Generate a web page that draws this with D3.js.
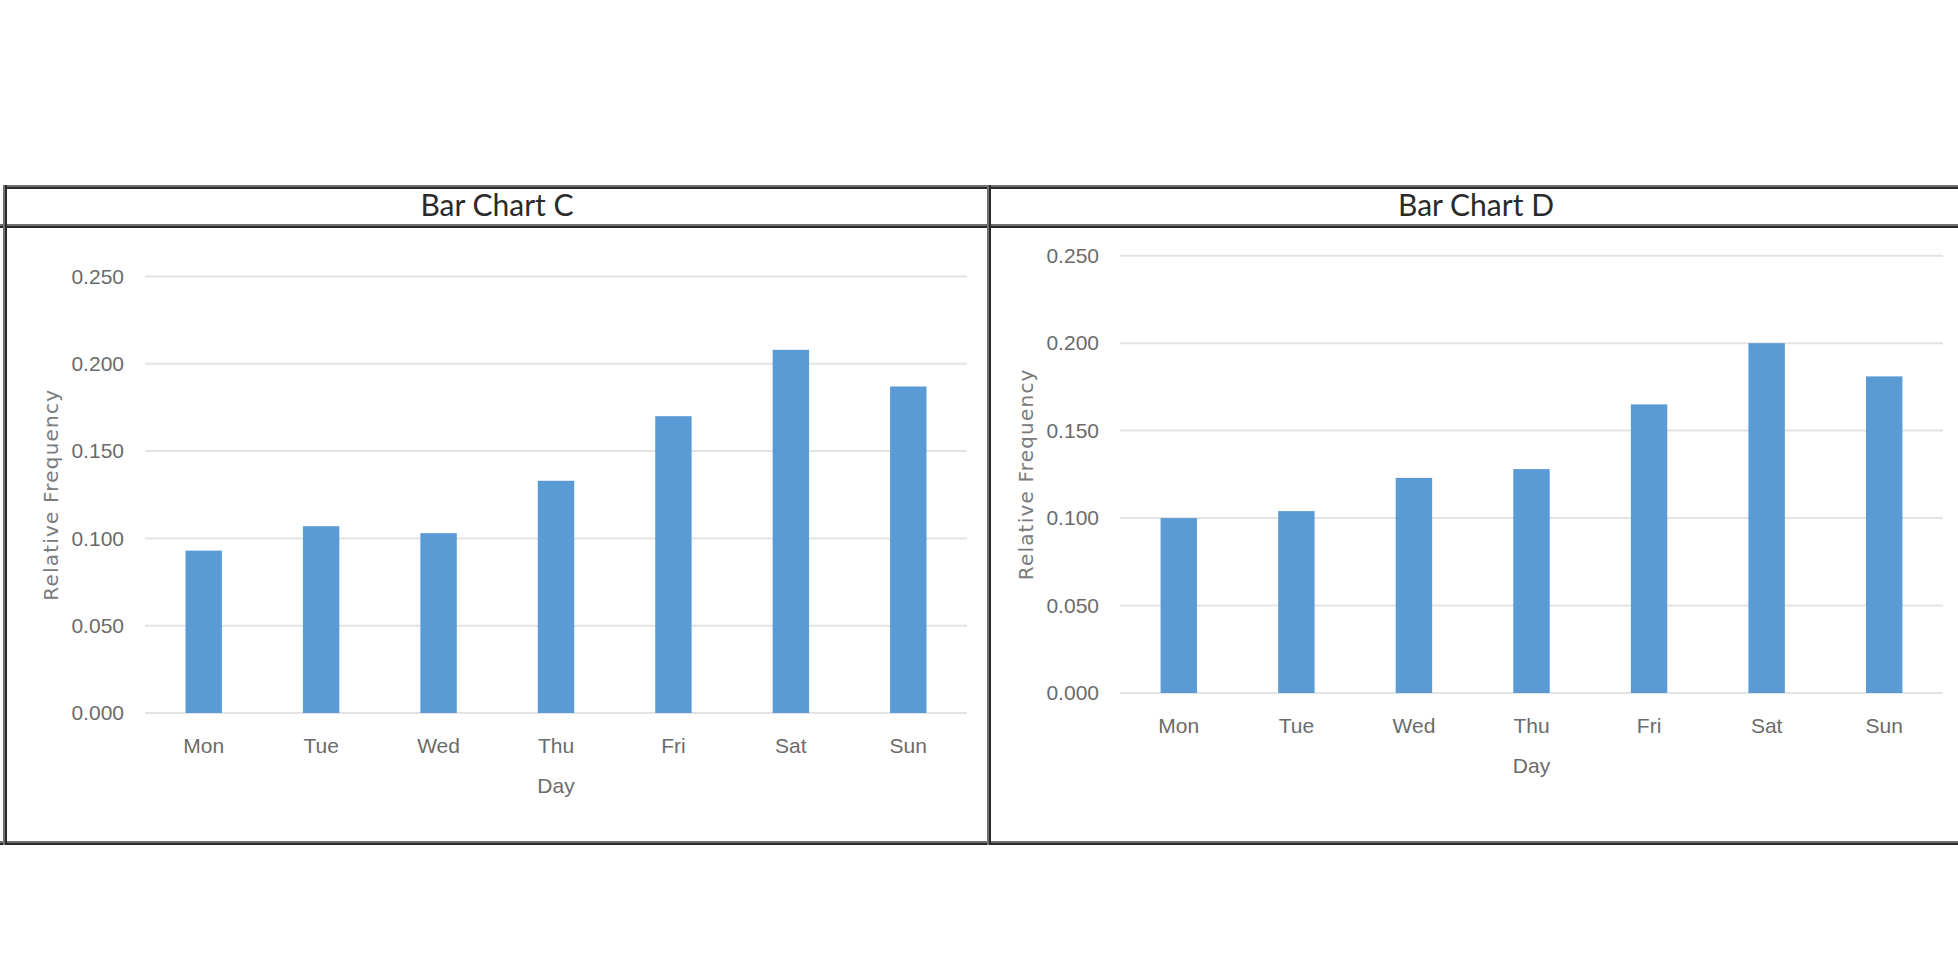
<!DOCTYPE html>
<html>
<head>
<meta charset="utf-8">
<script src="https://cdn.jsdelivr.net/npm/d3@7"></script>
<style>
  html, body { margin: 0; padding: 0; background: #ffffff; }
  svg { display: block; }
</style>
</head>
<body>
<svg id="chart" width="1958" height="969"></svg>
<script>
// ---- data ----
const days = ["Mon", "Tue", "Wed", "Thu", "Fri", "Sat", "Sun"];
const freqC = [0.093, 0.107, 0.103, 0.133, 0.170, 0.208, 0.187];
const freqD = [0.100, 0.104, 0.123, 0.128, 0.165, 0.200, 0.181];
const yTickValues = [0.000, 0.050, 0.100, 0.150, 0.200, 0.250];
const panelTitles = ["Bar Chart C", "Bar Chart D"];
const xAxisTitle = "Day";
const yAxisTitle = "Relative Frequency";

// ---- layout ----
const W = 1958, H = 969;
const svg = d3.select("#chart");
svg.append("rect").attr("width", W).attr("height", H).attr("fill", "#ffffff");

const table = { left: 3, right: 1962, top: 185, headBottom: 224, bottom: 841, mid: 987 };
const panels = [
  { title: panelTitles[0], values: freqC, x0: 145, x1: 967, yTop: 276.5, yZero: 713, headX: 497 },
  { title: panelTitles[1], values: freqD, x0: 1120, x1: 1943, yTop: 255.7, yZero: 693, headX: 1476 }
];

const barColor = "#5b9bd5";
const gridColor = "#e3e3e3";
const tickColor = "#6b6b6b";
const titleColor = "#7b7b7b";

panels.forEach(p => {
  const x = d3.scaleBand().domain(days).range([p.x0, p.x1])
    .paddingInner(0.69).paddingOuter(0.345);
  const y = d3.scaleLinear().domain([0, 0.25]).range([p.yZero, p.yTop]);

  const g = svg.append("g");

  // gridlines
  g.append("g").selectAll("line").data(yTickValues).join("line")
    .attr("x1", p.x0).attr("x2", p.x1)
    .attr("y1", d => y(d)).attr("y2", d => y(d))
    .attr("stroke", gridColor).attr("stroke-width", 2);

  // bars
  g.append("g").selectAll("rect").data(days).join("rect")
    .attr("x", d => x(d))
    .attr("width", x.bandwidth())
    .attr("y", (d, i) => y(p.values[i]))
    .attr("height", (d, i) => y(0) - y(p.values[i]))
    .attr("fill", barColor);

  // y axis labels
  const yAxis = d3.axisLeft(y).tickValues(yTickValues)
    .tickFormat(d3.format(".3f")).tickSize(0).tickPadding(21);
  const ya = g.append("g").attr("transform", `translate(${p.x0},0)`).call(yAxis);
  ya.select(".domain").remove();
  ya.selectAll("text").attr("fill", tickColor)
    .style("font-family", "'Liberation Sans', Arial, sans-serif").style("font-size", "21px");

  // x axis labels
  const xAxis = d3.axisBottom(x).tickSize(0).tickPadding(25);
  const xa = g.append("g").attr("transform", `translate(0,${p.yZero})`).call(xAxis);
  xa.select(".domain").remove();
  xa.selectAll("text").attr("fill", tickColor)
    .style("font-family", "'Liberation Sans', Arial, sans-serif").style("font-size", "21px");

  // x axis title
  g.append("text")
    .attr("x", (p.x0 + p.x1) / 2).attr("y", p.yZero + 80)
    .attr("text-anchor", "middle").attr("fill", tickColor)
    .style("font-family", "'Liberation Sans', Arial, sans-serif").style("font-size", "21px")
    .text(xAxisTitle);

  // y axis title
  const yc = (p.yTop + p.yZero) / 2;
  g.append("text")
    .attr("transform", `translate(${p.x0 - 87},${yc}) rotate(-90)`)
    .attr("text-anchor", "middle").attr("fill", titleColor)
    .style("font-family", "'DejaVu Sans', sans-serif").style("font-size", "20px")
    .style("letter-spacing", "1.2px")
    .text(yAxisTitle);

  // panel header
  g.append("text")
    .attr("x", p.headX)
    .attr("y", (table.top + table.headBottom) / 2 + 11)
    .attr("text-anchor", "middle").attr("fill", "#2a2a2a")
    .style("font-family", "Lato, 'Open Sans', sans-serif").style("font-size", "30px")
    .style("font-weight", "400")
    .text(p.title);
});

// ---- table borders (light outer half, dark inner half) ----
const light = "#707070", dark = "#2b2b2b";
function hBorder(yv, x1, x2) {
  svg.append("rect").attr("x", x1).attr("y", yv).attr("width", x2 - x1).attr("height", 2).attr("fill", light);
  svg.append("rect").attr("x", x1).attr("y", yv + 2).attr("width", x2 - x1).attr("height", 2).attr("fill", dark);
}
function vBorder(xv, y1, y2) {
  svg.append("rect").attr("x", xv).attr("y", y1).attr("width", 2).attr("height", y2 - y1).attr("fill", light);
  svg.append("rect").attr("x", xv + 2).attr("y", y1).attr("width", 2).attr("height", y2 - y1).attr("fill", dark);
}
hBorder(table.top, table.left, W);
hBorder(table.headBottom, 0, W);
hBorder(table.bottom, 0, W);
vBorder(table.left, table.top, table.bottom + 4);
vBorder(table.mid, table.top, table.bottom + 4);
</script>
</body>
</html>
